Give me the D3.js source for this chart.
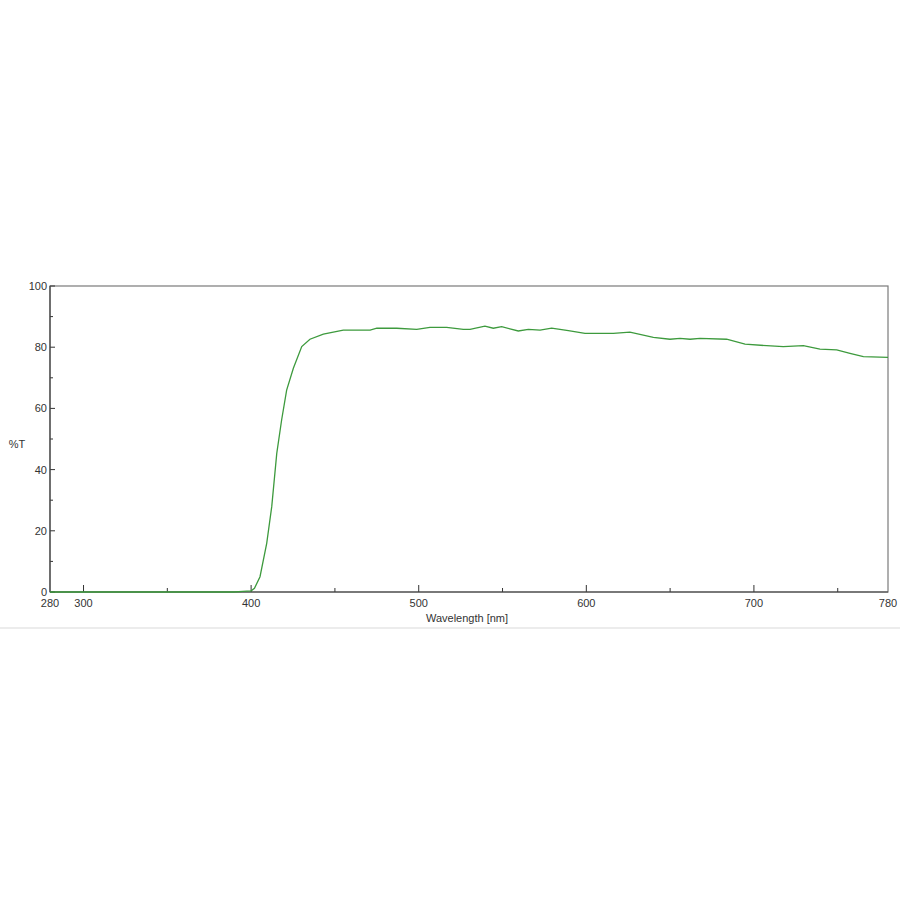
<!DOCTYPE html>
<html><head><meta charset="utf-8">
<script src="https://cdn.jsdelivr.net/npm/d3@7/dist/d3.min.js"></script>
<style>html,body{margin:0;padding:0;background:#fff;}</style>
</head><body>
<svg id="chart" width="900" height="900"></svg>
<script>
const wavelengths = [280, 300, 350, 390, 395, 400, 402, 405.3, 409.3, 412.3, 415.3, 418.2, 421.2, 425.2, 430.2, 435.1, 443.1, 455, 471, 475, 486.9, 498.8, 506.7, 516.7, 526.6, 530.6, 539.5, 544.5, 549.5, 559.4, 565.4, 572.4, 579.3, 589.3, 599.2, 616.1, 626, 640, 649.9, 655.9, 661.9, 667.8, 683.7, 694.7, 707.6, 717.5, 729.5, 739.4, 749.4, 757.3, 765.3, 780];
const transmission = [0, 0, 0, 0, 0.2, 0.4, 1.2, 5.0, 15.9, 27.9, 45.3, 56.2, 66.0, 73.1, 80.2, 82.6, 84.3, 85.6, 85.6, 86.2, 86.2, 85.8, 86.5, 86.5, 85.8, 85.8, 86.9, 86.2, 86.7, 85.3, 85.8, 85.6, 86.2, 85.4, 84.5, 84.5, 84.9, 83.2, 82.6, 82.9, 82.6, 82.9, 82.6, 81.0, 80.5, 80.2, 80.5, 79.4, 79.1, 78.0, 76.9, 76.7];
const xMajorTicks = [300, 400, 500, 600, 700];
const xMinorTicks = [350, 450, 550, 650, 750];
const xEndLabels = [280, 780];
const yMajorTicks = [0, 20, 40, 60, 80, 100];
const yMinorTicks = [10, 30, 50, 70, 90];

const svg = d3.select("#chart");
const m = {left: 50, right: 888, top: 286, bottom: 592};
const x = d3.scaleLinear().domain([280, 780]).range([m.left, m.right]);
const y = d3.scaleLinear().domain([0, 100]).range([m.bottom, m.top]);
const font = "'Liberation Sans', Arial, sans-serif";
const fs = 11;

// light separator band
svg.append("rect").attr("x", 0).attr("y", 627).attr("width", 900).attr("height", 2).attr("fill", "#ececec");

// frame
svg.append("rect").attr("x", m.left).attr("y", m.top)
  .attr("width", m.right - m.left).attr("height", m.bottom - m.top)
  .attr("fill", "none").attr("stroke", "#7a7a7a").attr("stroke-width", 1.2);

// x ticks
const gx = svg.append("g");
gx.selectAll("line.maj").data(xMajorTicks).join("line")
  .attr("x1", d => x(d)).attr("x2", d => x(d)).attr("y1", m.bottom).attr("y2", m.bottom - 7)
  .attr("stroke", "#333");
gx.selectAll("line.min").data(xMinorTicks).join("line")
  .attr("x1", d => x(d)).attr("x2", d => x(d)).attr("y1", m.bottom).attr("y2", m.bottom - 4)
  .attr("stroke", "#333");
gx.selectAll("text").data(xMajorTicks.concat(xEndLabels)).join("text")
  .attr("x", d => x(d)).attr("y", m.bottom + 15)
  .attr("text-anchor", "middle").attr("font-family", font).attr("font-size", fs).attr("fill", "#333")
  .text(d => d);

// y ticks
const gy = svg.append("g");
gy.selectAll("line.maj").data(yMajorTicks).join("line")
  .attr("x1", m.left).attr("x2", m.left + 5).attr("y1", d => y(d)).attr("y2", d => y(d))
  .attr("stroke", "#333");
gy.selectAll("line.min").data(yMinorTicks).join("line")
  .attr("x1", m.left).attr("x2", m.left + 3).attr("y1", d => y(d)).attr("y2", d => y(d))
  .attr("stroke", "#333");
gy.selectAll("text").data(yMajorTicks).join("text")
  .attr("x", m.left - 3).attr("y", d => y(d) + 4)
  .attr("text-anchor", "end").attr("font-family", font).attr("font-size", fs).attr("fill", "#333")
  .text(d => d);

// axis lines
svg.append("line").attr("x1", m.left).attr("x2", m.right).attr("y1", m.bottom).attr("y2", m.bottom).attr("stroke", "#444").attr("stroke-width", 1.2);
svg.append("line").attr("x1", m.left).attr("x2", m.left).attr("y1", m.top).attr("y2", m.bottom).attr("stroke", "#444").attr("stroke-width", 1.2);

// labels
svg.append("text").attr("x", 467).attr("y", 622).attr("text-anchor", "middle")
  .attr("font-family", font).attr("font-size", fs).attr("fill", "#333").text("Wavelength [nm]");
svg.append("text").attr("x", 17).attr("y", 448).attr("text-anchor", "middle")
  .attr("font-family", font).attr("font-size", fs).attr("fill", "#333").text("%T");

// curve
const line = d3.line().x((d, i) => x(wavelengths[i])).y(d => y(d)).curve(d3.curveLinear);
svg.append("path").datum(transmission).attr("d", line)
  .attr("fill", "none").attr("stroke", "#3d9a3d").attr("stroke-width", 1.3);
</script>
</body></html>
